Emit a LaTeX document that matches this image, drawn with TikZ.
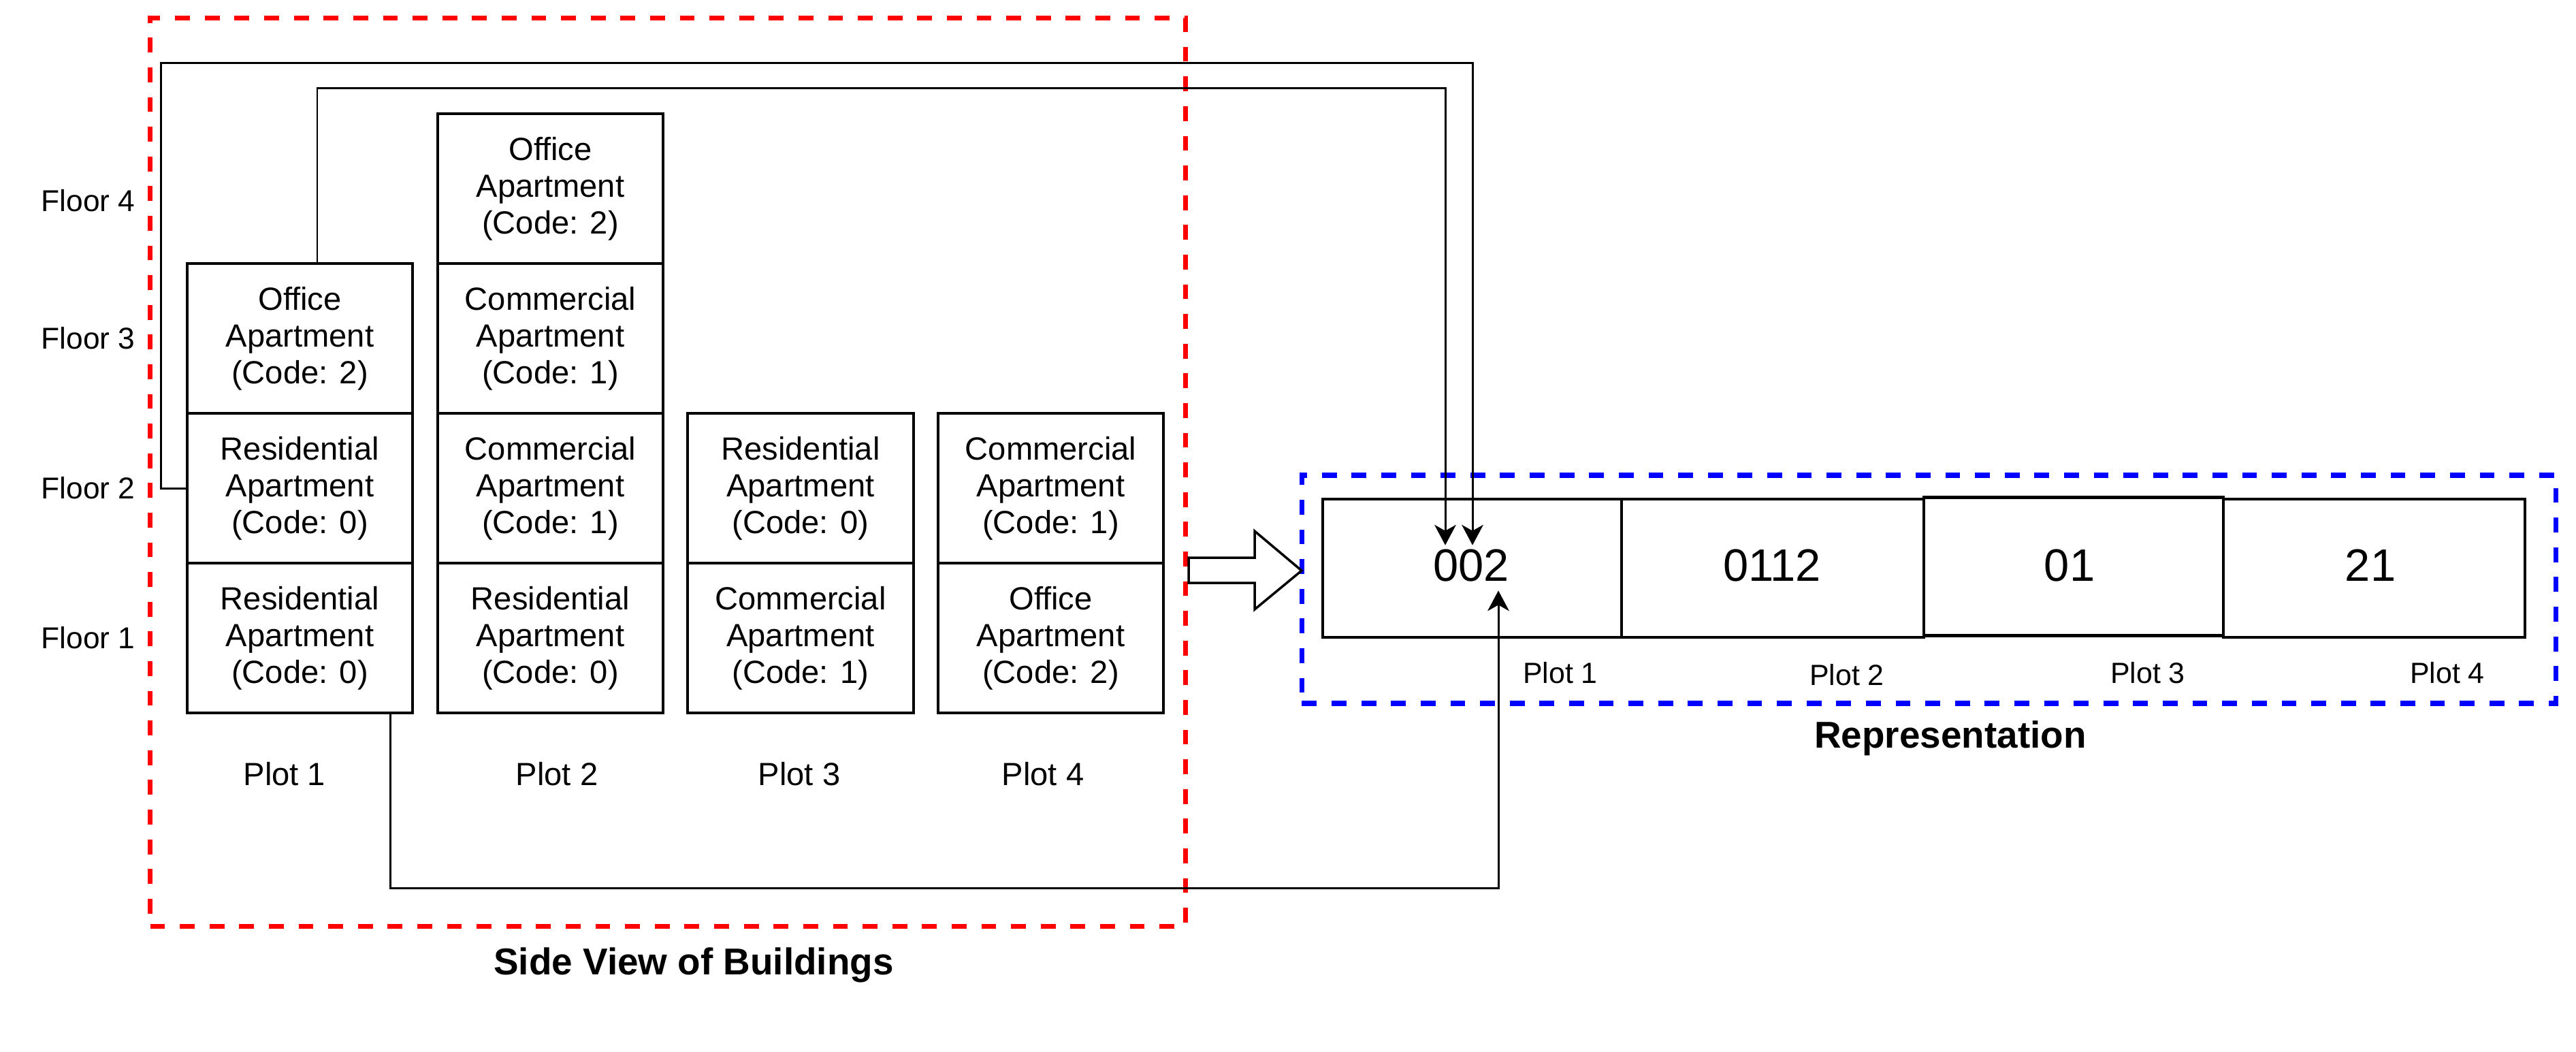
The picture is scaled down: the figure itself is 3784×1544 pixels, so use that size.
\documentclass[tikz,border=0pt]{standalone}
\usepackage{fontspec}
\setmainfont{Liberation Sans}
\usetikzlibrary{arrows.meta,calc}
\begin{document}
\begin{tikzpicture}[x=0.01cm,y=-0.01cm,
  cell/.style={draw, line width=1.1pt, minimum width=3.31cm, minimum height=2.2cm,
    align=center, inner sep=0pt, font=\fontsize{13.4}{15.4}\selectfont},
  floorlbl/.style={anchor=west, inner sep=0pt, font=\fontsize{12.6}{14}\selectfont},
  plotlbl/.style={inner sep=0pt, font=\fontsize{13.4}{15}\selectfont},
  replbl/.style={inner sep=0pt, font=\fontsize{12.2}{14}\selectfont},
  repbox/.style={draw, line width=1.2pt, minimum height=2.03cm, inner sep=0pt},
  digits/.style={inner sep=0pt, font=\fontsize{19}{21}\selectfont},
  title/.style={inner sep=0pt, font=\fontsize{15.6}{18}\selectfont\bfseries},
  framebox/.style={line width=2.1pt, dash pattern=on 6.2pt off 6.2pt, inner sep=0pt},
  conn/.style={line width=0.85pt},
  arr/.style={-{Stealth[length=8.5pt,width=9pt,inset=2.5pt]}}
]
\useasboundingbox (0,0) rectangle (3784,1544);

% frames
\node[framebox, draw=red, minimum width=15.2cm, minimum height=13.33cm] (side) at (981,693.5) {};
\node[framebox, draw=blue, minimum width=18.41cm, minimum height=3.35cm] (rep) at (2833.5,865.5) {};

% floor labels
\node[floorlbl] (fl4) at (60,295) {Floor 4};
\node[floorlbl] (fl3) at (60,497) {Floor 3};
\node[floorlbl] (fl2) at (60,717) {Floor 2};
\node[floorlbl] (fl1) at (60,937) {Floor 1};

% Plot 1
\node[cell] (p1f3) at (440.5,497) {Office\\Apartment\\(Code: 2)};
\node[cell] (p1f2) at (440.5,717) {Residential\\Apartment\\(Code: 0)};
\node[cell] (p1f1) at (440.5,937) {Residential\\Apartment\\(Code: 0)};
% Plot 2
\node[cell] (p2f4) at (808.5,277) {Office\\Apartment\\(Code: 2)};
\node[cell] (p2f3) at (808.5,497) {Commercial\\Apartment\\(Code: 1)};
\node[cell] (p2f2) at (808.5,717) {Commercial\\Apartment\\(Code: 1)};
\node[cell] (p2f1) at (808.5,937) {Residential\\Apartment\\(Code: 0)};
% Plot 3
\node[cell] (p3f2) at (1176,717) {Residential\\Apartment\\(Code: 0)};
\node[cell] (p3f1) at (1176,937) {Commercial\\Apartment\\(Code: 1)};
% Plot 4
\node[cell] (p4f2) at (1543.5,717) {Commercial\\Apartment\\(Code: 1)};
\node[cell] (p4f1) at (1543.5,937) {Office\\Apartment\\(Code: 2)};

% plot labels
\node[plotlbl] (pl1) at (418,1137) {Plot 1};
\node[plotlbl] (pl2) at (818,1137) {Plot 2};
\node[plotlbl] (pl3) at (1174,1137) {Plot 3};
\node[plotlbl] (pl4) at (1532,1137) {Plot 4};

% representation
\node[repbox, minimum width=4.39cm] (r1) at (2162.5,834.5) {};
\node[repbox, minimum width=4.44cm] (r2) at (2604,834.5) {};
\node[repbox, minimum width=4.40cm] (r3) at (3046,832) {};
\node[repbox, minimum width=4.43cm] (r4) at (3487.5,834.5) {};
\node[digits] (t1) at (2161,830) {002};
\node[digits] (t2) at (2603,830) {0112};
\node[digits] (t3) at (3040,830) {01};
\node[digits] (t4) at (3482,830) {21};

\node[replbl] (rl1) at (2292,988) {Plot 1};
\node[replbl] (rl2) at (2713,991) {Plot 2};
\node[replbl] (rl3) at (3155,988) {Plot 3};
\node[replbl] (rl4) at (3595,988) {Plot 4};

% titles
\node[title] (sidet) at (1019,1417) {Side View of Buildings};
\node[title] (rept) at (2865,1084) {Representation};

% connectors
\coordinate (c1) at (2163,92);
\coordinate (c2) at (2123,129);
\coordinate (c3) at (2201,1304);
\draw[conn,arr] (p1f2.west) -- ++(-36,0) |- (c1) -- ($(c1 |- t1.north)+(0,-5)$);
\draw[conn,arr] ($(p1f3.north)+(25.5,0)$) |- (c2) -- ($(c2 |- t1.north)+(0,-5)$);
\draw[conn,arr] ($(p1f1.south)+(132.5,0)$) |- (c3) -- ($(c3 |- t1.south)+(0,13)$);

% block arrow
\draw[line width=1pt, fill=white] (1746,819) -- (1843,819) -- (1843,780) -- (1912,838)
  -- (1843,895) -- (1843,856) -- (1746,856) -- cycle;
\end{tikzpicture}
\end{document}
